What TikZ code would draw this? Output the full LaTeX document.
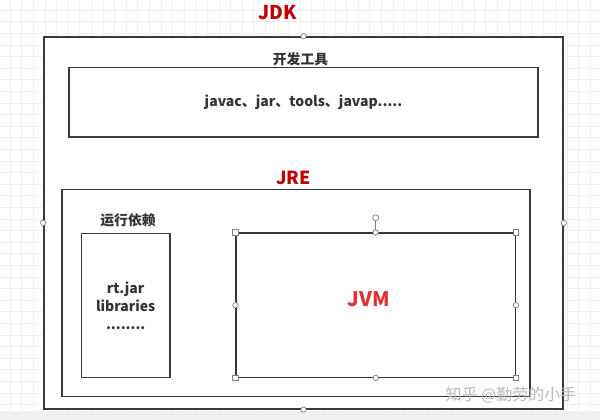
\documentclass[tikz,border=0pt]{standalone}
\usepackage{fontspec}
\setmainfont{Noto Sans CJK SC}
\usepackage{tikz}
\usetikzlibrary{calc}
\usetikzlibrary{positioning}

\definecolor{boxline}{HTML}{3A3A3A}
\definecolor{jvmline}{HTML}{3D3232}
\definecolor{darkred}{HTML}{C00000}
\definecolor{jvmred}{HTML}{E03232}
\definecolor{textgray}{HTML}{333333}
\definecolor{handlegray}{HTML}{8C7C7C}

\tikzset{
  layerbox/.style={draw=boxline, line width=1.6pt, fill=white, inner sep=0pt},
  jvmbox/.style={draw=jvmline, line width=1.2pt, fill=white, inner sep=0pt},
  title/.style={font=\bfseries\fontsize{19}{19}\selectfont, text=darkred, inner sep=0pt},
  caption/.style={font=\bfseries\fontsize{13.8}{14}\selectfont, text=textgray, inner sep=0pt},
  content/.style={font=\bfseries\fontsize{14}{18}\selectfont, text=textgray, inner sep=0pt, align=center},
  gridline/.style={draw=gray!12, line width=0.6pt},
  roundhandle/.style={draw=handlegray, fill=white, line width=0.7pt},
  squarehandle/.style={draw=handlegray, fill=white, line width=0.7pt, minimum size=5.5pt, inner sep=0pt}
}

\begin{document}
\begin{tikzpicture}[x=1pt, y=-1pt]

  \useasboundingbox (0,0) rectangle (600,420);

  % Background canvas grid
  \fill[white] (0,0) rectangle (600,420);
  \foreach \gx in {10.1,21.7,...,600}
    \draw[gridline] (\gx,0) -- (\gx,420);
  \foreach \gy in {10.1,21.7,...,420}
    \draw[gridline] (0,\gy) -- (600,\gy);
  \fill[gray!12] (0,411) rectangle (600,420);

  % JDK
  \node[layerbox, minimum width=519pt, minimum height=371.7pt] (jdk) at (303.5,222.9) {};
  \node[title] (jdklabel) at (277.5,13) {JDK};

  % Development tools
  \node[caption] (toolslabel) at (300.5,59) {开发工具};
  \node[layerbox, minimum width=469pt, minimum height=69pt] (tools) at (303.5,102.2) {};
  \node[content] at (tools) {javac、jar、tools、javap.....};

  % JRE
  \node[title, font=\bfseries\fontsize{18}{18}\selectfont] (jrelabel) at (293.5,178) {JRE};
  \node[layerbox, minimum width=468pt, minimum height=207pt] (jre) at (296,292.8) {};

  % Runtime libraries
  \node[caption] (depslabel) at (128,220) {运行依赖};
  \node[layerbox, minimum width=88.3pt, minimum height=144pt] (deps) at (125.8,305.3) {};
  \node[content] at (125.7,306) {rt.jar\\libraries\\........};

  % JVM, shown selected
  \node[jvmbox, minimum width=279.3pt, minimum height=144.3pt] (jvm) at (375.7,305.2) {};
  \node[title, font=\bfseries\fontsize{20}{20}\selectfont, text=jvmred] (jvmlabel) at (369,299) {JVM};

  % Selection handles
  \coordinate (rot) at (375.7,217.7);
  \draw[draw=handlegray, line width=0.7pt] (rot) -- (jvm.north);
  \draw[roundhandle] (rot) circle (3pt);
  \draw[roundhandle]
                    (jvm.north) circle (2.7pt)
                    (jvm.south) circle (2.7pt)
                    (jvm.west) circle (2.7pt)
                    (jvm.east) circle (2.7pt)
                    (jdk.north) circle (2.7pt)
                    (jdk.south) circle (2.7pt)
                    (jdk.west) circle (2.7pt)
                    (jdk.east) circle (2.7pt)
                    ;
  \node[squarehandle] at (jvm.north west) {};
  \node[squarehandle] at (jvm.north east) {};
  \node[squarehandle] at (jvm.south west) {};
  \node[squarehandle] at (jvm.south east) {};

  % Watermark
  \node[font=\fontsize{16}{16}\selectfont, text=gray!55, inner sep=0pt] (mark) at (511,395) {知乎 @勤劳的小手};

\end{tikzpicture}
\end{document}
